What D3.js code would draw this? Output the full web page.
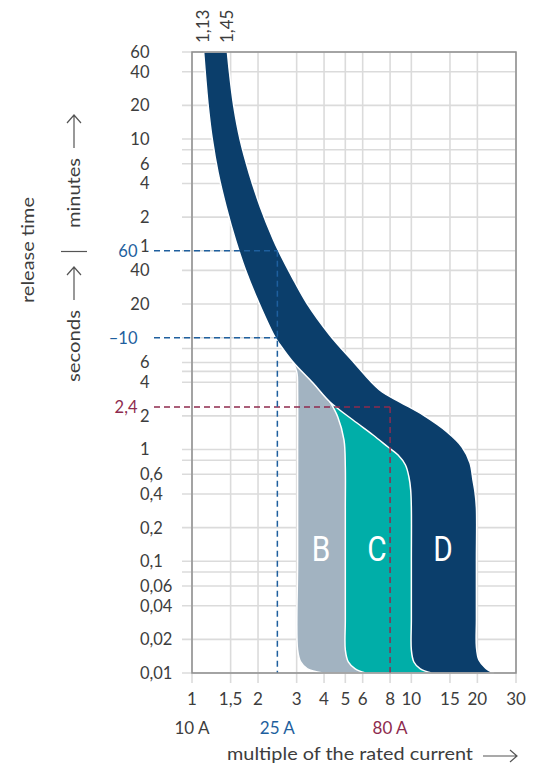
<!DOCTYPE html>
<html><head><meta charset="utf-8">
<script src="https://cdn.jsdelivr.net/npm/d3@7/dist/d3.min.js"></script>
<style>body{margin:0;background:#fff}svg{display:block}</style>
</head><body>
<script>
// ---------- data ----------
const xTicks = [1, 1.5, 2, 3, 4, 5, 6, 8, 10, 15, 20, 30];
const xTickLabels = ["1", "1,5", "2", "3", "4", "5", "6", "8", "10", "15", "20", "30"];
const minuteGrid = [60, 40, 20, 10, 8, 6, 4, 2, 1];           // minutes
const minuteLabels = [60, 40, 20, 10, 6, 4, 2, 1];
const secondGrid = [40, 20, 10, 8, 6, 5, 4, 2, 1, 0.8, 0.6, 0.4, 0.2, 0.1, 0.08, 0.06, 0.04, 0.02, 0.01];
const secondLabels = [40, 20, 6, 4, 2, 1, 0.6, 0.4, 0.2, 0.1, 0.06, 0.04, 0.02, 0.01];
const thermalLimits = [1.13, 1.45];
const thermalLimitLabels = ["1,13", "1,45"];
const markTimes = [60, 10, 2.4];                 // seconds
const markTexts = ["60", "\u201310", "2,4"];
const markCurrents = [2.45, 2.45, 8];            // multiples
const currentLabels = ["10 A", "25 A", "80 A"];
const currentMultiples = [1, 2.45, 8];
const bandNames = ["B", "C", "D"];
const bandLabelMultiple = [3.87, 6.97, 13.94];
const bandLabelTime = 0.13;

// curves: [multiple, seconds]
const thermalLow = [[1.13,3600],[1.187,1160],[1.239,588],[1.316,298],[1.432,148],[1.579,74.8],[1.754,40.4],[2.02,20.4],[2.389,10.1],[2.524,8.6],[2.887,6.06]];
const thermalHigh = [[1.45,3600],[1.483,2335],[1.552,1160],[1.658,588],[1.821,298],[2.048,148],[2.353,74.8],[2.47,60.9],[2.86,34.9],[3.334,20.4],[4.244,10.58],[5.347,6.32],[7.165,3.405],[8.877,2.66],[11.3,2.035],[14.54,1.434],[17.02,1.052],[18.51,0.757],[19.1,0.533],[19.5,0.4165],[19.8,0.3],[19.8,0.1],[19.8,0.03],[19.8,0.0171],[20.33,0.01306],[21.76,0.0111],[23.7,0.01]];
const dLeft = [[2.887,6.06],[3.562,3.93],[4.257,2.66],[5.42,1.835],[6.69,1.348],[7.83,1.052],[8.70,0.892],[9.4,0.726],[9.75,0.567],[9.93,0.435],[10,0.3],[10,0.1],[10,0.03],[10,0.0161],[10.27,0.01255],[10.99,0.01087],[12.34,0.01]];
const cLeft = [[4.257,2.66],[4.62,1.952],[4.93,1.216],[5,0.697],[5,0.3],[5,0.1],[5,0.03],[5,0.0161],[5.16,0.01255],[5.55,0.01087],[6.17,0.01]];
const bLeft = [[2.887,6.06],[3.01,4.83],[3.03,3.41],[3.03,1.0],[3.03,0.1],[3.03,0.0161],[3.13,0.01255],[3.36,0.01087],[3.94,0.01]];
// hidden closing points (inside the band drawn on top)
const cClose = [[14,0.01],[14,1.0],[8,1.5],[5.5,2.3]];
const bClose = [[7,0.01],[7,1.0],[4,4]];

// ---------- drawing ----------
const W = 547, H = 777;
const x = d3.scaleLog().domain([1, 30]).range([192, 516]);
const y = d3.scaleLog().domain([0.01, 3600]).range([673, 52]);
const C = {navy:"#0b3e6b", grey:"#a2b3c1", teal:"#00aea8", blue:"#1e5f9e", red:"#8e2b4e", text:"#3d3d3d", grid:"#dbdbdb", frame:"#8e8e8e"};
const font = "Lato, 'Open Sans', 'DejaVu Sans', sans-serif";

const svg = d3.select("body").append("svg").attr("width", W).attr("height", H)
  .style("font-family", font);

const yGrid = minuteGrid.map(m => m * 60).concat(secondGrid);
svg.append("g").selectAll("line").data(yGrid).join("line")
  .attr("x1", x(1) - 10).attr("x2", x(30))
  .attr("y1", d => y(d)).attr("y2", d => y(d))
  .attr("stroke", C.grid).attr("stroke-width", 1.6);
svg.append("g").selectAll("line").data(xTicks).join("line")
  .attr("x1", d => x(d)).attr("x2", d => x(d))
  .attr("y1", y(3600)).attr("y2", y(0.01) + 10)
  .attr("stroke", C.grid).attr("stroke-width", 1.6);

const curve = d3.line().x(d => x(d[0])).y(d => y(d[1])).curve(d3.curveCatmullRom.alpha(0.5));
const lin = d3.line().x(d => x(d[0])).y(d => y(d[1]));
const cont = s => s.replace(/^M/, "L");

const pathB = curve(bLeft) + cont(lin(bClose)) + "Z";
const pathC = curve(cLeft) + cont(lin(cClose)) + "Z";
const pathD = curve(thermalLow.concat(dLeft.slice(1))) + cont(curve(thermalHigh.slice().reverse())) + "Z";

[[pathB, C.grey], [pathC, C.teal], [pathD, C.navy]].forEach(([p, col]) => {
  svg.append("path").attr("d", p).attr("fill", col)
    .attr("stroke", "#fff").attr("stroke-width", 1.5).attr("stroke-linejoin", "round");
});

// band letters
svg.append("g").selectAll("text").data(bandNames).join("text")
  .attr("transform", (d, i) => `translate(${x(bandLabelMultiple[i])},${y(bandLabelTime)}) scale(0.85,1)`)
  .attr("text-anchor", "middle").attr("dy", "0.355em")
  .style("font-family", "Roboto, 'DejaVu Sans', sans-serif").style("font-size", "35px")
  .attr("fill", "#fff").text(d => d);

// marker dashed lines
const markColor = i => i < 2 ? C.blue : C.red;
markTimes.forEach((t, i) => {
  svg.append("line").attr("x1", x(1) - 38).attr("x2", x(markCurrents[i]))
    .attr("y1", y(t)).attr("y2", y(t))
    .attr("stroke", markColor(i)).attr("stroke-width", 1.5).attr("stroke-dasharray", "6,4");
});
[[2.45, 60, 0], [8, 2.4, 2]].forEach(([m, t, i]) => {
  svg.append("line").attr("x1", x(m)).attr("x2", x(m))
    .attr("y1", y(t)).attr("y2", y(0.01))
    .attr("stroke", markColor(i)).attr("stroke-width", 1.5).attr("stroke-dasharray", "6,4");
});

// frame
svg.append("rect").attr("x", x(1)).attr("y", y(3600))
  .attr("width", x(30) - x(1)).attr("height", y(0.01) - y(3600))
  .attr("fill", "none").attr("stroke", C.frame).attr("stroke-width", 1.5);

// y tick labels (aligned on the comma)
const fmt = v => String(v).replace(".", ",");
const yl = svg.append("g").style("font-size", "16.5px").attr("fill", C.text);
function yLabel(t, label, dyShift) {
  const parts = label.split(",");
  const yy = y(t) + (dyShift || 0);
  yl.append("text").attr("x", x(1) - 42.5).attr("y", yy).attr("dy", "0.36em")
    .attr("text-anchor", "end").text(parts[0]);
  if (parts.length > 1)
    yl.append("text").attr("x", x(1) - 42.5).attr("y", yy).attr("dy", "0.36em")
      .attr("text-anchor", "start").text("," + parts[1]);
}
minuteLabels.forEach(v => yLabel(v * 60, fmt(v), v === 1 ? -5 : 0));
secondLabels.forEach(v => yLabel(v, fmt(v)));

markTimes.forEach((t, i) => {
  svg.append("text").attr("x", x(1) - 54.5).attr("y", y(t)).attr("dy", "0.36em")
    .attr("text-anchor", "end").style("font-size", "16.5px").attr("fill", markColor(i))
    .text(markTexts[i]);
});

// x tick labels
svg.append("g").selectAll("text").data(xTicks).join("text")
  .attr("x", d => x(d)).attr("y", 705).attr("text-anchor", "middle")
  .style("font-size", "17px").attr("fill", C.text).text((d, i) => xTickLabels[i]);

// current labels
const curColors = [C.text, C.blue, C.red];
svg.append("g").selectAll("text").data(currentLabels).join("text")
  .attr("x", (d, i) => x(currentMultiples[i])).attr("y", 733.5).attr("text-anchor", "middle")
  .style("font-size", "17px").attr("fill", (d, i) => curColors[i]).text(d => d);

// top thermal labels
svg.append("g").selectAll("text").data(thermalLimits).join("text")
  .attr("transform", d => `translate(${x(d) + 5.5},43) rotate(-90)`)
  .attr("text-anchor", "start").style("font-size", "17px").attr("fill", C.text)
  .text((d, i) => thermalLimitLabels[i]);

// axis titles
svg.append("text").attr("x", 227).attr("y", 760).style("font-size", "17.5px")
  .attr("textLength", 246).attr("lengthAdjust", "spacingAndGlyphs")
  .attr("fill", C.text).text("multiple of the rated current");
const ar = svg.append("g").attr("fill", "none").attr("stroke", "#555").attr("stroke-width", 1.2);
ar.append("path").attr("d", "M483,756H517M510,750L517,756L510,762");

svg.append("text").attr("transform", "translate(33.5,250) rotate(-90)")
  .attr("text-anchor", "middle").style("font-size", "17.5px")
  .attr("textLength", 106).attr("lengthAdjust", "spacingAndGlyphs")
  .attr("fill", C.text).text("release time");
svg.append("text").attr("transform", "translate(80,382) rotate(-90)")
  .attr("text-anchor", "start").style("font-size", "17.5px")
  .attr("textLength", 72).attr("lengthAdjust", "spacingAndGlyphs")
  .attr("fill", C.text).text("seconds");
svg.append("text").attr("transform", "translate(80,228) rotate(-90)")
  .attr("text-anchor", "start").style("font-size", "17.5px")
  .attr("textLength", 70).attr("lengthAdjust", "spacingAndGlyphs")
  .attr("fill", C.text).text("minutes");
ar.append("path").attr("d", "M74,300V267M67,275L74,267L81,275");
ar.append("path").attr("d", "M74,148V115M67,123L74,115L81,123");
ar.append("path").attr("d", "M61,251.5H87");
</script>
</body></html>
